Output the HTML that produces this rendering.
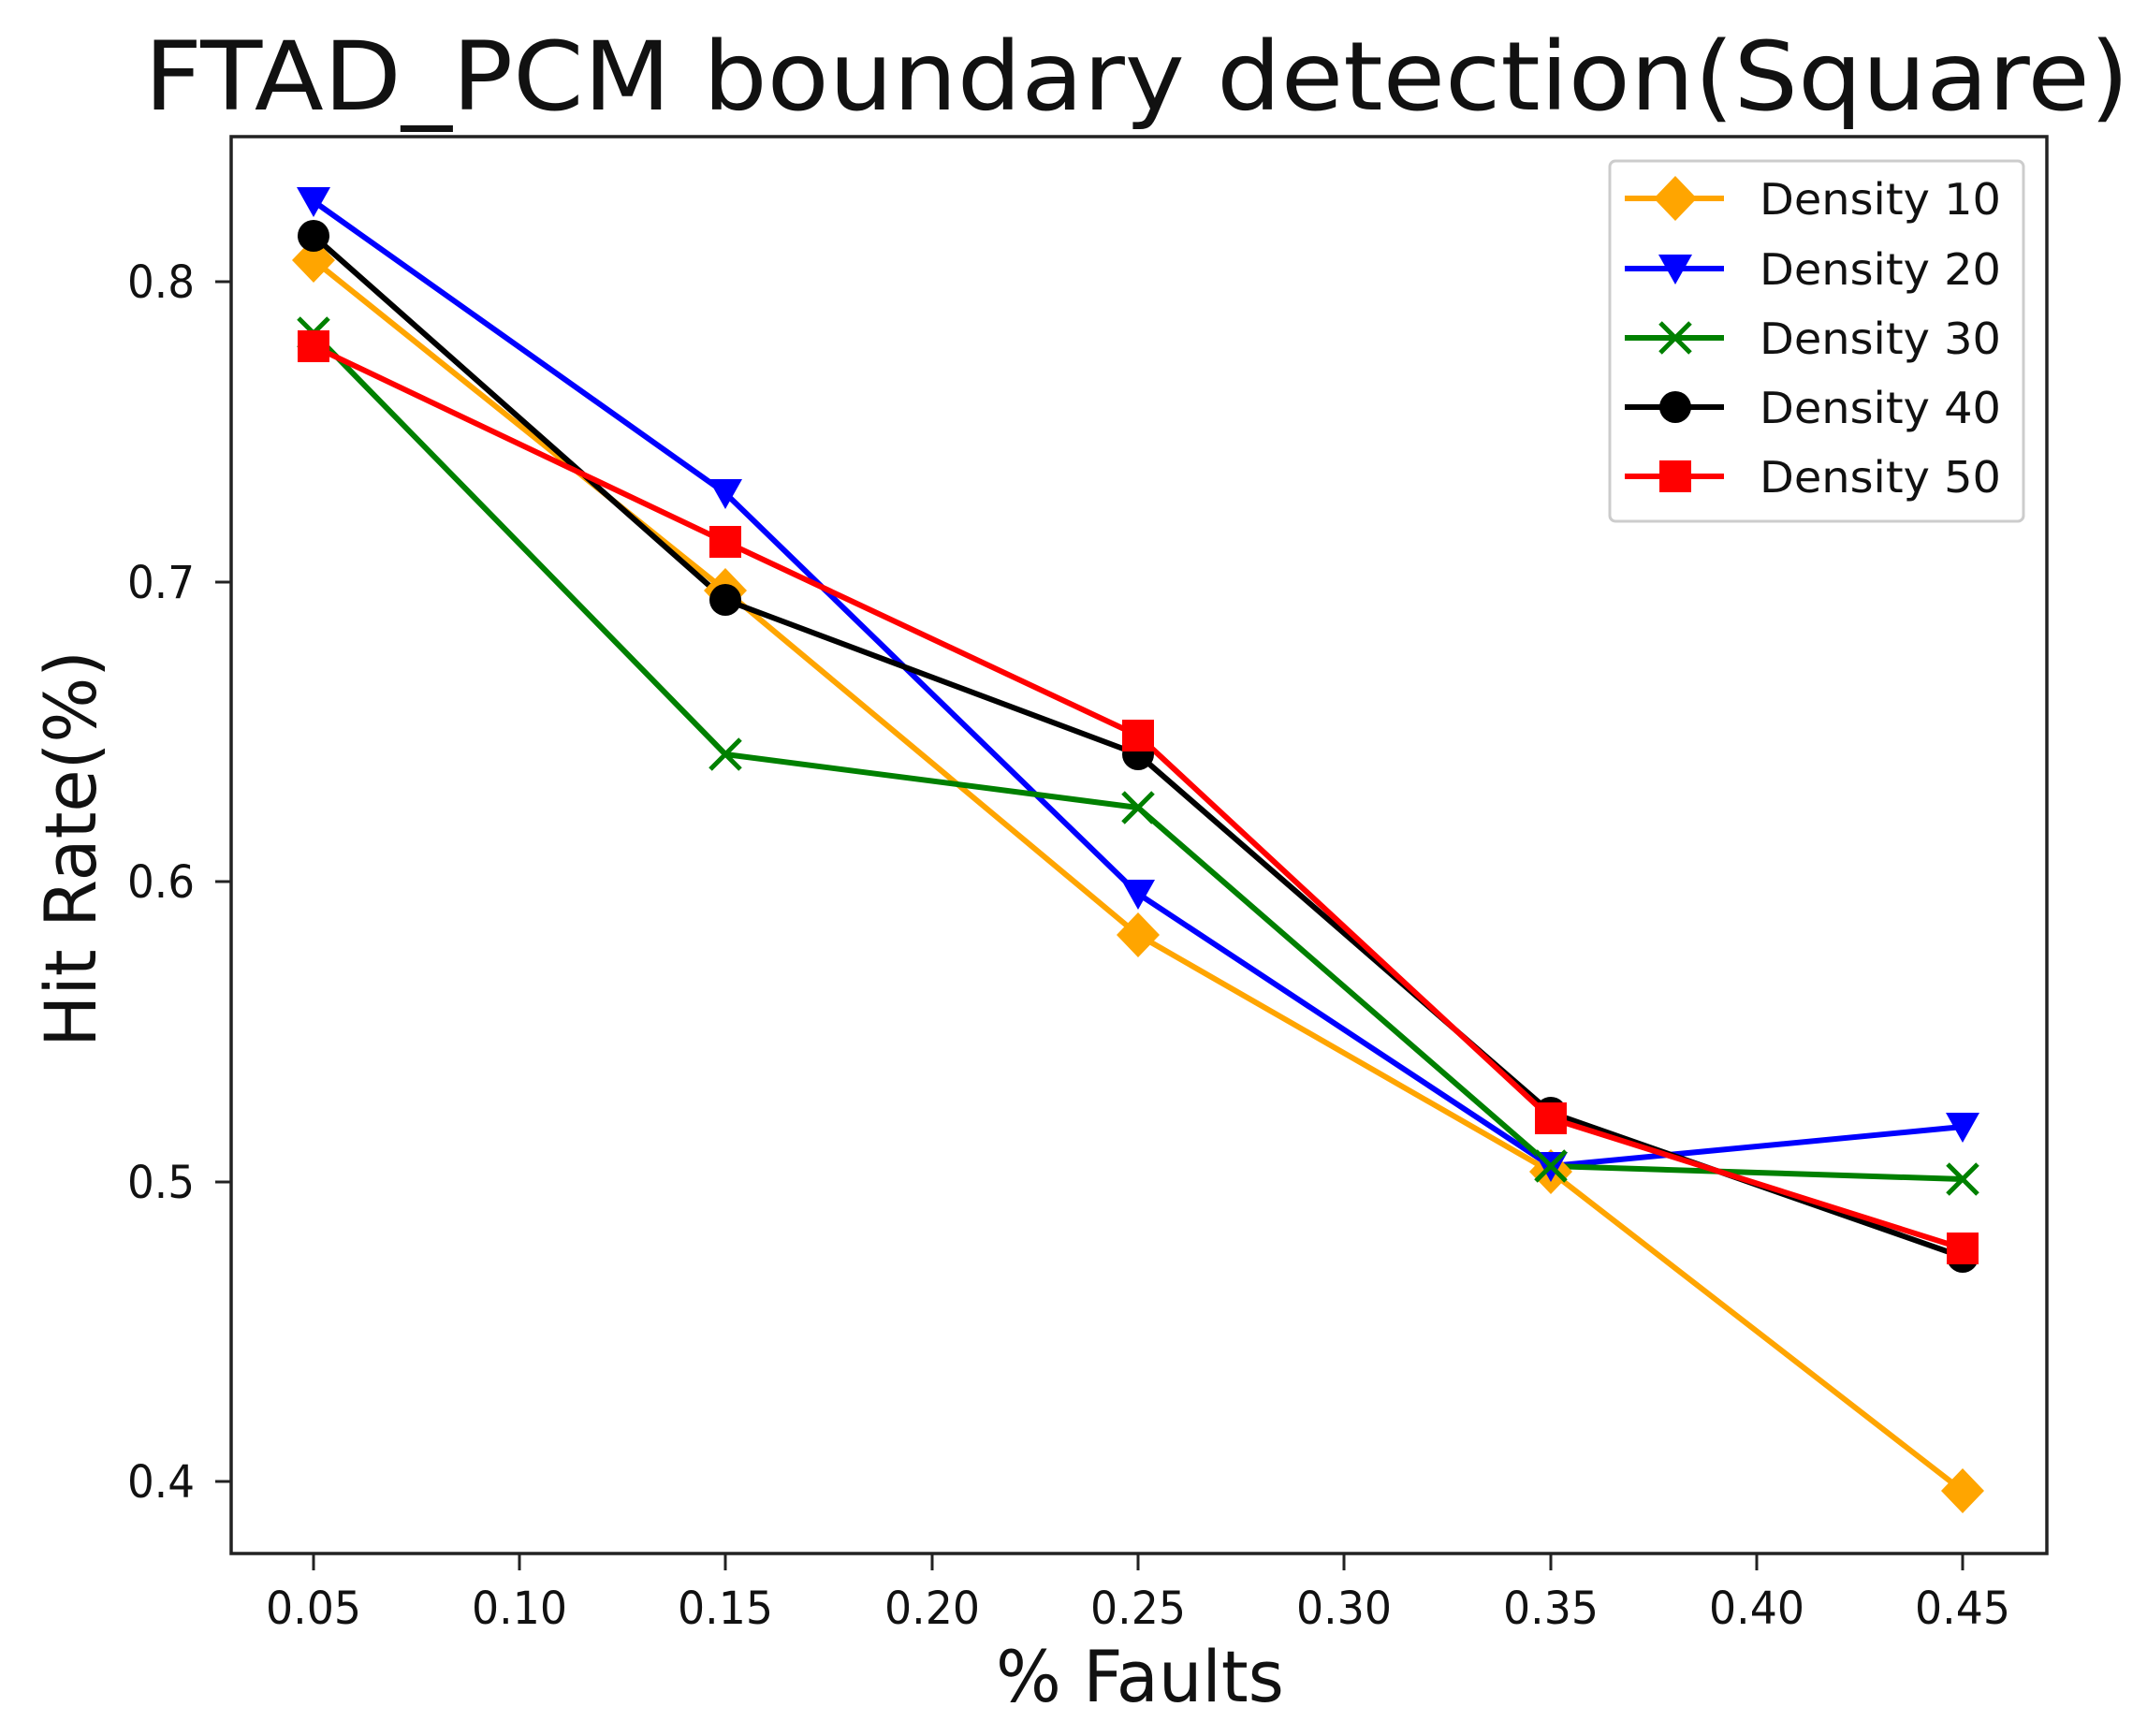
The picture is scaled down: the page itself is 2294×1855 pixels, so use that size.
<!DOCTYPE html>
<html><head><meta charset="utf-8"><style>
html,body{margin:0;padding:0;background:#fff}
svg{display:block}
text{font-family:"DejaVu Sans","Liberation Sans",sans-serif;fill:#111}
</style></head><body>
<svg width="2294" height="1855" viewBox="0 0 2294 1855" xmlns="http://www.w3.org/2000/svg">
<defs>
<g id="dia"><polygon points="0,-24 23,0 0,24 -23,0"/></g>
<g id="tri"><polygon points="-18,-15 18,-15 0,17"/></g>
<g id="sq"><rect x="-17" y="-17" width="34" height="34"/></g>
</defs>
<text x="154" y="117" font-size="102" textLength="2121" lengthAdjust="spacingAndGlyphs">FTAD_PCM boundary detection(Square)</text>
<rect x="247" y="146" width="1940" height="1514" fill="none" stroke="#222" stroke-width="3.5"/>
<g stroke="#222" stroke-width="3">
<line x1="230" y1="301" x2="247" y2="301"/><line x1="230" y1="622" x2="247" y2="622"/>
<line x1="230" y1="942" x2="247" y2="942"/><line x1="230" y1="1263" x2="247" y2="1263"/>
<line x1="230" y1="1583" x2="247" y2="1583"/>
<line x1="335" y1="1660" x2="335" y2="1678"/><line x1="555" y1="1660" x2="555" y2="1678"/>
<line x1="775" y1="1660" x2="775" y2="1678"/><line x1="996" y1="1660" x2="996" y2="1678"/>
<line x1="1216" y1="1660" x2="1216" y2="1678"/><line x1="1436" y1="1660" x2="1436" y2="1678"/>
<line x1="1657" y1="1660" x2="1657" y2="1678"/><line x1="1877" y1="1660" x2="1877" y2="1678"/>
<line x1="2097" y1="1660" x2="2097" y2="1678"/>
</g>
<g font-size="48" text-anchor="end">
<text x="208" y="318" textLength="72" lengthAdjust="spacingAndGlyphs">0.8</text>
<text x="208" y="639" textLength="72" lengthAdjust="spacingAndGlyphs">0.7</text>
<text x="208" y="959" textLength="72" lengthAdjust="spacingAndGlyphs">0.6</text>
<text x="208" y="1280" textLength="72" lengthAdjust="spacingAndGlyphs">0.5</text>
<text x="208" y="1600" textLength="72" lengthAdjust="spacingAndGlyphs">0.4</text>
</g>
<g font-size="48">
<text x="284" y="1735" textLength="102" lengthAdjust="spacingAndGlyphs">0.05</text>
<text x="504" y="1735" textLength="102" lengthAdjust="spacingAndGlyphs">0.10</text>
<text x="724" y="1735" textLength="102" lengthAdjust="spacingAndGlyphs">0.15</text>
<text x="945" y="1735" textLength="102" lengthAdjust="spacingAndGlyphs">0.20</text>
<text x="1165" y="1735" textLength="102" lengthAdjust="spacingAndGlyphs">0.25</text>
<text x="1385" y="1735" textLength="102" lengthAdjust="spacingAndGlyphs">0.30</text>
<text x="1606" y="1735" textLength="102" lengthAdjust="spacingAndGlyphs">0.35</text>
<text x="1826" y="1735" textLength="102" lengthAdjust="spacingAndGlyphs">0.40</text>
<text x="2046" y="1735" textLength="102" lengthAdjust="spacingAndGlyphs">0.45</text>
</g>
<text x="1064" y="1818" font-size="76" textLength="308" lengthAdjust="spacingAndGlyphs">% Faults</text>
<text transform="translate(102,1119) rotate(-90)" font-size="76" textLength="424" lengthAdjust="spacingAndGlyphs">Hit Rate(%)</text>
<g fill="none" stroke-width="6" stroke-linejoin="round">
<polyline stroke="#FFA500" points="335,278 775,631 1216,999 1657,1252 2097,1593"/>
<polyline stroke="#0000FF" points="335,215 775,527 1216,955 1657,1246 2097,1204"/>
<polyline stroke="#008000" points="335,356 775,806 1216,863 1657,1246 2097,1260"/>
<polyline stroke="#000" points="335,252 775,641 1216,806 1657,1189 2097,1343"/>
<polyline stroke="#FF0000" points="335,370 775,579 1216,786 1657,1195 2097,1334"/>
</g>
<g fill="#FFA500">
<use href="#dia" x="335" y="278"/><use href="#dia" x="775" y="631"/><use href="#dia" x="1216" y="999"/><use href="#dia" x="1657" y="1252"/><use href="#dia" x="2097" y="1593"/>
</g>
<g fill="#0000FF">
<use href="#tri" x="335" y="215"/><use href="#tri" x="775" y="527"/><use href="#tri" x="1216" y="955"/><use href="#tri" x="1657" y="1246"/><use href="#tri" x="2097" y="1204"/>
</g>
<g stroke="#008000" stroke-width="5">
<path d="M319,340 l32,32 m0,-32 l-32,32 M759,790 l32,32 m0,-32 l-32,32 M1200,847 l32,32 m0,-32 l-32,32 M1641,1230 l32,32 m0,-32 l-32,32 M2081,1244 l32,32 m0,-32 l-32,32"/>
</g>
<g fill="#000">
<circle cx="335" cy="252" r="17"/><circle cx="775" cy="641" r="17"/><circle cx="1216" cy="806" r="17"/><circle cx="1657" cy="1189" r="17"/><circle cx="2097" cy="1343" r="17"/>
</g>
<g fill="#FF0000">
<use href="#sq" x="335" y="370"/><use href="#sq" x="775" y="579"/><use href="#sq" x="1216" y="786"/><use href="#sq" x="1657" y="1195"/><use href="#sq" x="2097" y="1334"/>
</g>
<rect x="1720" y="172" width="442" height="385" rx="6" fill="#fff" stroke="#ccc" stroke-width="3"/>
<g stroke-width="6">
<line x1="1736" y1="212" x2="1842" y2="212" stroke="#FFA500"/>
<line x1="1736" y1="287" x2="1842" y2="287" stroke="#0000FF"/>
<line x1="1736" y1="361" x2="1842" y2="361" stroke="#008000"/>
<line x1="1736" y1="435" x2="1842" y2="435" stroke="#000"/>
<line x1="1736" y1="509" x2="1842" y2="509" stroke="#FF0000"/>
</g>
<use href="#dia" x="1790" y="212" fill="#FFA500"/>
<use href="#tri" x="1790" y="287" fill="#0000FF"/>
<path d="M1774,345 l32,32 m0,-32 l-32,32" stroke="#008000" stroke-width="5"/>
<circle cx="1790" cy="435" r="17" fill="#000"/>
<use href="#sq" x="1790" y="509" fill="#FF0000"/>
<g font-size="46">
<text x="1880" y="229" textLength="258" lengthAdjust="spacingAndGlyphs">Density 10</text>
<text x="1880" y="304" textLength="258" lengthAdjust="spacingAndGlyphs">Density 20</text>
<text x="1880" y="378" textLength="258" lengthAdjust="spacingAndGlyphs">Density 30</text>
<text x="1880" y="452" textLength="258" lengthAdjust="spacingAndGlyphs">Density 40</text>
<text x="1880" y="526" textLength="258" lengthAdjust="spacingAndGlyphs">Density 50</text>
</g>
</svg>
</body></html>
